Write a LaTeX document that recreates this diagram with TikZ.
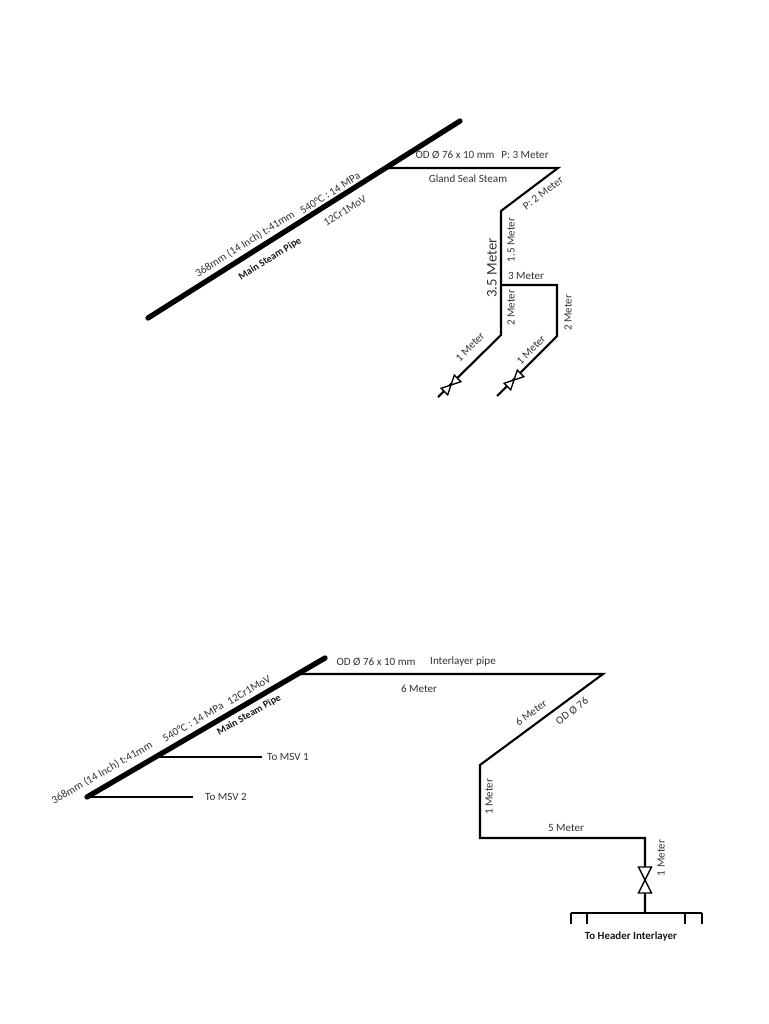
\documentclass[tikz,border=0pt]{standalone}
\usepackage{fontspec}
\setmainfont{Carlito}

\tikzset{
	mainpipe/.style={line width=3pt,line cap=round},
	pipe/.style={line width=1.2pt,line join=miter},
	thinpipe/.style={line width=0.9pt},
	lbl/.style={inner sep=0pt,font=\fontsize{6.3}{7}\selectfont,text=black!80},
	boldlbl/.style={lbl,font=\fontsize{5.8}{7}\selectfont\bfseries,text=black!90},
	biglbl/.style={lbl,font=\fontsize{8.4}{9}\selectfont},
	valve/.style={draw,line width=0.8pt,fill=white}
}

\begin{document}
\begin{tikzpicture}[x=0.02cm,y=-0.02cm]

\useasboundingbox (0,0) rectangle (768,1024);

% upper drawing
\coordinate (a1) at (148,318);
\coordinate (a2) at (460,121);
\coordinate (b1) at (388,168);
\coordinate (b2) at (558,168);
\coordinate (b3) at (501,211);
\coordinate (b4) at (501,285);
\coordinate (b5) at (501,335);
\coordinate (b6) at (438,397);
\coordinate (c1) at (557,285);
\coordinate (c2) at (557,336);
\coordinate (c3) at (497,396);

\draw [mainpipe] (a1) -- (a2);
\draw [pipe] (b1) -- (b2) -- (b3) -- (b4) -- (b5) -- (b6);
\draw [pipe] (b4) -- (c1) -- (c2) -- (c3);

\node (size1) [lbl,rotate=32] at (245,244) {368mm (14 Inch) t:41mm};
\node (temp1) [lbl,rotate=32] at (330,193) {540°C : 14 MPa};
\node (mat1) [lbl,rotate=32] at (345,211) {12Cr1MoV};
\node (name1) [boldlbl,rotate=32] at (270,259) {Main Steam Pipe};
\node (od1) [lbl] at (455,155) {OD Ø 76 x 10 mm};
\node (p3) [lbl] at (525,155) {P: 3 Meter};
\node (gland) [lbl] at (468,179) {Gland Seal Steam};
\node (p2) [lbl,rotate=37] at (543,193) {P: 2 Meter};
\node (m15) [lbl,rotate=90] at (511,240) {1.5 Meter};
\node (m35) [biglbl,rotate=90] at (492,268) {3.5 Meter};
\node (m3) [lbl] at (526,276) {3 Meter};
\node (m2a) [lbl,rotate=90] at (511,308) {2 Meter};
\node (m2b) [lbl,rotate=90] at (568,313) {2 Meter};
\node (m1a) [lbl,rotate=45] at (470,347) {1 Meter};
\node (m1b) [lbl,rotate=45] at (531,350) {1 Meter};

% lower drawing
\coordinate (d1) at (87,797);
\coordinate (d2) at (325,658);
\coordinate (e1) at (300,674);
\coordinate (e2) at (603,674);
\coordinate (e3) at (480,765);
\coordinate (e4) at (480,838);
\coordinate (e5) at (645,838);
\coordinate (e6) at (645,912);
\coordinate (f1) at (158,757);
\coordinate (f2) at (262,757);
\coordinate (g2) at (193,797);
\coordinate (h1) at (571,913);
\coordinate (h2) at (702,913);

\draw [mainpipe] (d1) -- (d2);
\draw [pipe] (e1) -- (e2) -- (e3) -- (e4) -- (e5) -- (e6);
\draw [pipe] (f1) -- (f2);
\draw [thinpipe] (d1) -- (g2);
\draw [pipe] (h1) -- (h2);
\foreach \x in {571,587,685,702} {
	\draw [pipe] (\x,913) -- (\x,924);
}

% valves
\foreach \x/\y/\a/\s in {451/385/-45/0.72,514/380/-45/0.72,645/880/0/1} {
	\begin{scope}[shift={(\x,\y)},rotate=\a,scale=\s]
		\draw [valve] (0,0) -- (-6.5,-13) -- (6.5,-13) -- cycle;
		\draw [valve] (0,0) -- (-6.5,13) -- (6.5,13) -- cycle;
	\end{scope}
}

\node (size2) [lbl,rotate=30] at (102,773) {368mm (14 Inch) t:41mm};
\node (temp2) [lbl,rotate=30] at (193,722) {540°C : 14 MPa};
\node (mat2) [lbl,rotate=30] at (249,690) {12Cr1MoV};
\node (name2) [boldlbl,rotate=30] at (249,715) {Main Steam Pipe};
\node (msv1) [lbl] at (288,757) {To MSV 1};
\node (msv2) [lbl] at (226,797) {To MSV 2};
\node (od2) [lbl] at (376,662) {OD Ø 76 x 10 mm};
\node (inter) [lbl] at (463,662) {Interlayer pipe};
\node (m6a) [lbl] at (419,689) {6 Meter};
\node (m6b) [lbl,rotate=37] at (531,713) {6 Meter};
\node (od3) [lbl,rotate=37] at (572,711) {OD Ø 76};
\node (m1c) [lbl,rotate=90] at (489,797) {1 Meter};
\node (m5) [lbl] at (566,828) {5 Meter};
\node (m1d) [lbl,rotate=90] at (661,858) {1 Meter};
\node (header) [boldlbl,font=\fontsize{6.2}{7}\selectfont\bfseries] at (631,937) {To Header Interlayer};

\end{tikzpicture}
\end{document}
